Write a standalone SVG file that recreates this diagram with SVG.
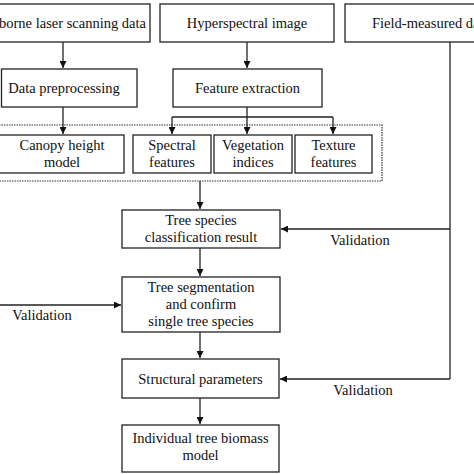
<svg xmlns="http://www.w3.org/2000/svg" width="474" height="474" viewBox="0 0 474 474">
<defs>
<marker id="ah" viewBox="0 0 10 10" refX="10" refY="5" markerWidth="7" markerHeight="7" markerUnits="userSpaceOnUse" orient="auto">
<path d="M0,0 L10,5 L0,10 Z" fill="#111"/>
</marker>
<style>
.box{fill:#fff;stroke:#222;stroke-width:1.3}
.dot{fill:none;stroke:#333;stroke-width:1.2;stroke-dasharray:1.5 1}
.ln{fill:none;stroke:#222;stroke-width:1.3}
.ar{fill:none;stroke:#222;stroke-width:1.3;marker-end:url(#ah)}
text{font-family:"Liberation Serif","Times New Roman",serif;font-size:14.5px;fill:#111;text-anchor:middle}
</style>
</defs>
<rect width="474" height="474" fill="#fff"/>
<rect class="dot" x="-6" y="125" width="388" height="56"/>
<g id="connectors">
<path class="ar" d="M63,42 V68"/>
<path class="ar" d="M247,42 V68"/>
<path class="ar" d="M63,107 V134"/>
<path class="ln" d="M247,107 V117 M172,117 H333"/>
<path class="ar" d="M172,117 V134"/>
<path class="ar" d="M247,117 V134"/>
<path class="ar" d="M333,117 V134"/>
<path class="ar" d="M200,181 V209"/>
<path class="ar" d="M200,248 V276"/>
<path class="ar" d="M200,332 V358"/>
<path class="ar" d="M200,398 V424"/>
<path class="ln" d="M450,42 V379"/>
<path class="ar" d="M450,229 H281"/>
<path class="ar" d="M450,379 H280"/>
<path class="ar" d="M-5,305 H121"/>
<text x="42" y="320">Validation</text>
<text x="360" y="245">Validation</text>
<text x="363" y="395">Validation</text>
</g>
<g id="airborne"><rect class="box" x="-40" y="4" width="190" height="38"/><text x="146" y="28" style="text-anchor:end">Airborne laser scanning data</text></g>
<g id="hyperspectral"><rect class="box" x="160" y="4" width="174" height="38"/><text x="247" y="28">Hyperspectral image</text></g>
<g id="field"><rect class="box" x="345" y="4" width="160" height="38"/><text x="372" y="28" style="text-anchor:start">Field-measured data</text></g>
<g id="preprocessing"><rect class="box" x="1.5" y="69" width="135.5" height="38"/><text x="64" y="93">Data preprocessing</text></g>
<g id="feature"><rect class="box" x="173" y="69" width="149" height="38"/><text x="247.5" y="93">Feature extraction</text></g>
<g id="canopy"><rect class="box" x="-1" y="135" width="125" height="38"/><text x="62" y="150">Canopy height</text><text x="62" y="167">model</text></g>
<g id="spectral"><rect class="box" x="133" y="135" width="78" height="38"/><text x="172" y="150">Spectral</text><text x="172" y="167">features</text></g>
<g id="vegetation"><rect class="box" x="214" y="135" width="78" height="38"/><text x="253" y="150">Vegetation</text><text x="253" y="167">indices</text></g>
<g id="texture"><rect class="box" x="295" y="135" width="77" height="38"/><text x="333.5" y="150">Texture</text><text x="333.5" y="167">features</text></g>
<g id="species"><rect class="box" x="122" y="210" width="158" height="38"/><text x="201" y="225">Tree species</text><text x="201" y="242">classification result</text></g>
<g id="segmentation"><rect class="box" x="122" y="277" width="158" height="55"/><text x="201" y="292">Tree segmentation</text><text x="201" y="309">and confirm</text><text x="201" y="326">single tree species</text></g>
<g id="structural"><rect class="box" x="122" y="359" width="157" height="39"/><text x="200.5" y="384">Structural parameters</text></g>
<g id="biomass"><rect class="box" x="122" y="425" width="157" height="47"/><text x="200.5" y="443">Individual tree biomass</text><text x="200.5" y="460">model</text></g>
</svg>
